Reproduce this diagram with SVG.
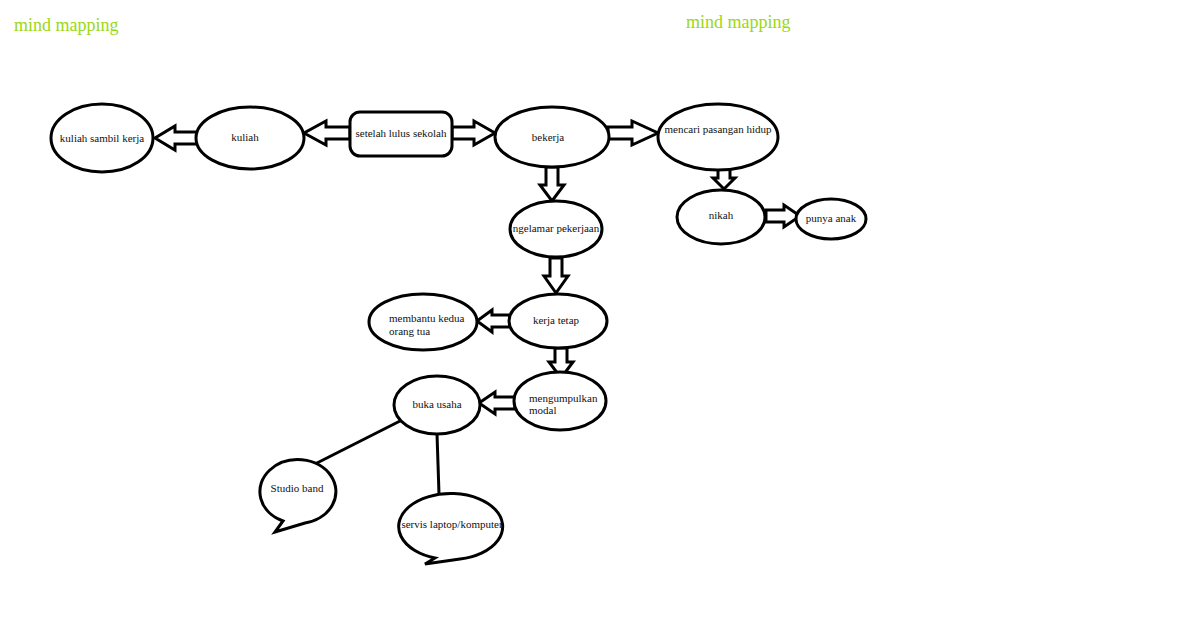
<svg xmlns="http://www.w3.org/2000/svg" width="1200" height="630" viewBox="0 0 1200 630">
<style>
.n{fill:#fff;stroke:#000;stroke-width:3}
.a{fill:#fff;stroke:#000;stroke-width:3;stroke-linejoin:miter}
.l{stroke:#000;stroke-width:3;fill:none}
text{font-family:"Liberation Serif",serif;font-size:11px;fill:#111}
.c{text-anchor:middle}
.t{font-size:18px;fill:#9ad813}
</style>
<rect width="1200" height="630" fill="#fff"/>
<text class="t" x="14" y="31">mind mapping</text>
<text class="t" x="686" y="28">mind mapping</text>
<g id="connectors">
<path class="a" d="M197,132 L175,132 L175,126 L155,138 L175,150 L175,144 L197,144 Z"/>
<path class="a" d="M350,127 L326,127 L326,121 L304,133 L326,145 L326,139 L350,139 Z"/>
<path class="a" d="M452,127 L474,127 L474,121 L495,133 L474,145 L474,139 L452,139 Z"/>
<path class="a" d="M608,127 L632,127 L632,121 L658,133 L632,145 L632,139 L608,139 Z"/>
<path class="a" d="M546,167 L546,185 L540,185 L552,201 L564,185 L558,185 L558,167 Z"/>
<path class="a" d="M718,167 L718,178 L713,178 L724,189 L735,178 L730,178 L730,167 Z"/>
<path class="a" d="M766,210 L784,210 L784,205 L800,216 L784,227 L784,222 L766,222 Z"/>
<path class="a" d="M550,258 L550,276 L544,276 L556,293 L568,276 L562,276 L562,258 Z"/>
<path class="a" d="M510,315 L492,315 L492,310 L477,321 L492,332 L492,327 L510,327 Z"/>
<path class="a" d="M555,348 L555,362 L549,362 L561,378 L573,362 L567,362 L567,348 Z"/>
<path class="a" d="M515,397 L495,397 L495,392 L479,403 L495,414 L495,409 L515,409 Z"/>
<line class="l" x1="402" y1="420" x2="315" y2="464"/>
<line class="l" x1="437" y1="434" x2="439" y2="494"/>
</g>
<g id="n1"><ellipse class="n" cx="102" cy="138" rx="51" ry="34"/><text class="c" x="102" y="142">kuliah sambil kerja</text></g>
<g id="n2"><ellipse class="n" cx="250" cy="138" rx="54" ry="31"/><text class="c" x="245" y="141">kuliah</text></g>
<g id="n3"><rect class="n" x="350" y="112" width="102" height="44" rx="10"/><text class="c" x="401" y="137">setelah lulus sekolah</text></g>
<g id="n4"><ellipse class="n" cx="552" cy="137" rx="57" ry="30"/><text class="c" x="548" y="141">bekerja</text></g>
<g id="n5"><ellipse class="n" cx="718" cy="137" rx="60" ry="33"/><text class="c" x="718" y="133">mencari pasangan hidup</text></g>
<g id="n6"><ellipse class="n" cx="721" cy="217" rx="44" ry="27"/><text class="c" x="721" y="219">nikah</text></g>
<g id="n7"><ellipse class="n" cx="831" cy="219" rx="35" ry="20"/><text class="c" x="831" y="222">punya anak</text></g>
<g id="n8"><ellipse class="n" cx="556" cy="229" rx="46" ry="28"/><text class="c" x="556" y="232">ngelamar pekerjaan</text></g>
<g id="n9"><ellipse class="n" cx="558" cy="321" rx="49" ry="27"/><text class="c" x="556" y="324">kerja tetap</text></g>
<g id="n10"><ellipse class="n" cx="423" cy="322" rx="54" ry="28"/><text x="389" y="322">membantu kedua</text><text x="389" y="335">orang tua</text></g>
<g id="n11"><ellipse class="n" cx="560" cy="401" rx="46" ry="29"/><text x="529" y="402">mengumpulkan</text><text x="529" y="414">modal</text></g>
<g id="n12"><ellipse class="n" cx="437" cy="405" rx="43" ry="29"/><text class="c" x="437" y="408">buka usaha</text></g>
<g id="n13"><path class="n" d="M283,521 A38,32 0 1 1 305,523 L275,532 Z"/><text class="c" x="297" y="492">Studio band</text></g>
<g id="n14"><path class="n" d="M435,558 A52,33 0 1 1 460,559 L425,564 Z"/><text class="c" x="452" y="528">servis laptop/komputer</text></g>
</svg>
